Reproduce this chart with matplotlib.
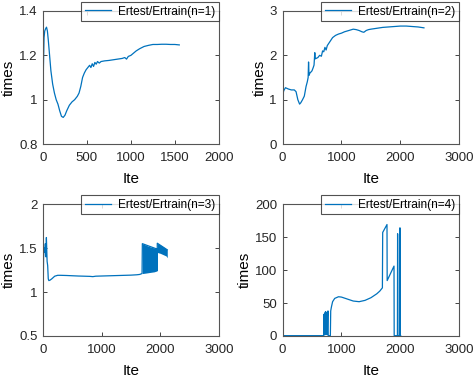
import numpy as np
import matplotlib.pyplot as plt

plt.rcParams['font.family'] = ['Liberation Sans', 'DejaVu Sans']

# n=1
x1 = [0, 5, 12, 20, 30, 40, 50, 60, 75, 90, 110, 130, 150, 170, 190, 210, 230, 250,
      270, 300, 330, 360, 390, 410, 430, 450, 470, 490, 510, 530, 545, 560, 575, 590,
      605, 620, 640, 660, 700, 750, 800, 850, 900, 930, 950, 970, 1000, 1030, 1060,
      1100, 1150, 1200, 1250, 1300, 1350, 1400, 1450, 1500, 1550]
y1 = [0.98, 1.15, 1.28, 1.31, 1.32, 1.327, 1.31, 1.27, 1.2, 1.13, 1.07, 1.03, 1.0,
      0.98, 0.95, 0.925, 0.92, 0.93, 0.95, 0.975, 0.99, 1.0, 1.015, 1.03, 1.06, 1.1,
      1.12, 1.135, 1.145, 1.155, 1.145, 1.162, 1.15, 1.168, 1.16, 1.172, 1.165, 1.172,
      1.175, 1.177, 1.18, 1.183, 1.186, 1.19, 1.183, 1.195, 1.2, 1.21, 1.22, 1.23,
      1.24, 1.245, 1.249, 1.249, 1.25, 1.25, 1.249, 1.249, 1.247]

# n=2
x2 = [0, 20, 50, 100, 150, 200, 230, 260, 290, 310, 340, 370, 400, 420, 435, 442,
      450, 465, 480, 500, 520, 535, 548, 555, 570, 600, 630, 660, 680, 700, 720, 740,
      760, 800, 850, 900, 950, 1000, 1050, 1100, 1150, 1200, 1250, 1300, 1350, 1380,
      1420, 1460, 1500, 1600, 1700, 1800, 1900, 2000, 2100, 2200, 2300, 2400]
y2 = [1.07, 1.2, 1.27, 1.24, 1.22, 1.22, 1.18, 1.0, 0.9, 0.93, 1.0, 1.08, 1.3, 1.4,
      1.5, 1.85, 1.55, 1.6, 1.62, 1.65, 1.72, 1.78, 2.06, 1.92, 1.93, 1.95, 2.0, 1.98,
      2.1, 2.08, 2.18, 2.12, 2.22, 2.3, 2.4, 2.45, 2.48, 2.5, 2.53, 2.55, 2.57, 2.59,
      2.58, 2.56, 2.53, 2.52, 2.56, 2.58, 2.59, 2.61, 2.63, 2.64, 2.65, 2.66, 2.66,
      2.65, 2.64, 2.62]

# n=3
x3 = [0, 5, 10, 20, 30, 40, 50, 58, 70, 80, 90, 100, 120, 150, 200, 250, 300, 400,
      500, 600, 700, 800, 850, 900, 1000, 1100, 1200, 1300, 1400, 1500, 1600, 1650,
      1690, 1695, 1940, 1945, 1950, 2120]
y3 = [0.85, 1.1, 1.4, 1.5, 1.45, 1.55, 1.4, 1.62, 1.35, 1.3, 1.15, 1.13, 1.135, 1.15,
      1.18, 1.19, 1.19, 1.188, 1.185, 1.182, 1.18, 1.178, 1.175, 1.18, 1.182, 1.184,
      1.186, 1.188, 1.19, 1.192, 1.196, 1.2, 1.21, 1.55, 1.49, 1.24, 1.555, 1.48]
# oscillating bands of n=3 (envelopes)
band_a_x = [1695, 1750, 1800, 1850, 1900, 1940]
band_a_top = [1.55, 1.535, 1.52, 1.51, 1.5, 1.49]
band_a_bot = [1.21, 1.215, 1.22, 1.225, 1.23, 1.24]
band_b_x = [1950, 2000, 2050, 2100, 2120]
band_b_top = [1.555, 1.535, 1.515, 1.49, 1.48]
band_b_bot = [1.45, 1.44, 1.425, 1.41, 1.39]

# n=4
x4 = [0, 700, 705, 712, 718, 724, 730, 736, 742, 748, 754, 760, 766, 772, 776, 812,
      818, 830, 850, 886, 950, 1000, 1100, 1200, 1300, 1400, 1500, 1600, 1650, 1695,
      1700, 1773, 1776, 1892, 1895, 1950, 1953, 1958, 1988, 1993, 2000, 2005]
y4 = [0.5, 0.5, 33, 2, 35, 3, 37, 2, 34, 3, 36, 2, 30, 38, 0.5, 0.5,
      38, 44, 52, 57, 59.5, 59, 56, 53, 52, 54, 58, 64, 68, 73,
      157, 169, 84, 106, 0.5, 0.5, 155, 0.5, 0.5, 164, 0.5, 0.5]

blue = '#0072BD'
fig = plt.figure(figsize=(4.74, 3.79), dpi=100)

panels = [
    (x1, y1, 'Ertest/Ertrain(n=1)', [0.0907, 0.620, 0.371, 0.351], [0, 2000], [0.8, 1.4],
     [0, 500, 1000, 1500, 2000], [0.8, 1, 1.2, 1.4], ['0.8', '1', '1.2', '1.4']),
    (x2, y2, 'Ertest/Ertrain(n=2)', [0.596, 0.620, 0.373, 0.351], [0, 3000], [0, 3],
     [0, 1000, 2000, 3000], [0, 1, 2, 3], ['0', '1', '2', '3']),
    (x3, y3, 'Ertest/Ertrain(n=3)', [0.0907, 0.1135, 0.371, 0.348], [0, 3000], [0.5, 2],
     [0, 1000, 2000, 3000], [0.5, 1, 1.5, 2], ['0.5', '1', '1.5', '2']),
    (x4, y4, 'Ertest/Ertrain(n=4)', [0.596, 0.1135, 0.373, 0.348], [0, 3000], [0, 200],
     [0, 1000, 2000, 3000], [0, 50, 100, 150, 200], ['0', '50', '100', '150', '200']),
]

axes = []
for xs, ys, lab, pos, xl, yl, xt, yt, ytl in panels:
    ax = fig.add_axes(pos)
    ax.plot(xs, ys, color=blue, lw=0.9, label=lab)
    ax.set_xlim(xl)
    ax.set_ylim(yl)
    ax.set_xticks(xt)
    ax.set_xticklabels([str(v) for v in xt])
    ax.set_yticks(yt)
    ax.set_yticklabels(ytl)
    ax.tick_params(direction='in', length=3, width=0.6, top=True, right=True,
                   labelsize=9.5, colors='#262626')
    ax.tick_params(axis='x', pad=5.5)
    ax.tick_params(axis='y', pad=4)
    for s in ax.spines.values():
        s.set_color('#555555')
        s.set_linewidth(0.8)
    ax.set_xlabel('Ite', fontsize=11, labelpad=6)
    ax.set_ylabel('times', fontsize=11, labelpad=2)
    leg = ax.legend(loc='upper right', bbox_to_anchor=(1.0, 1.068), borderaxespad=0,
                    fontsize=8.6, frameon=True, fancybox=False, handlelength=2.2,
                    borderpad=0.3, handletextpad=0.6)
    leg.get_frame().set_edgecolor('#262626')
    leg.get_frame().set_linewidth(0.8)
    axes.append(ax)

axes[2].fill_between(band_a_x, band_a_bot, band_a_top, color=blue, lw=0)
axes[2].fill_between(band_b_x, band_b_bot, band_b_top, color=blue, lw=0)

fig.savefig('out.png', dpi=100)
